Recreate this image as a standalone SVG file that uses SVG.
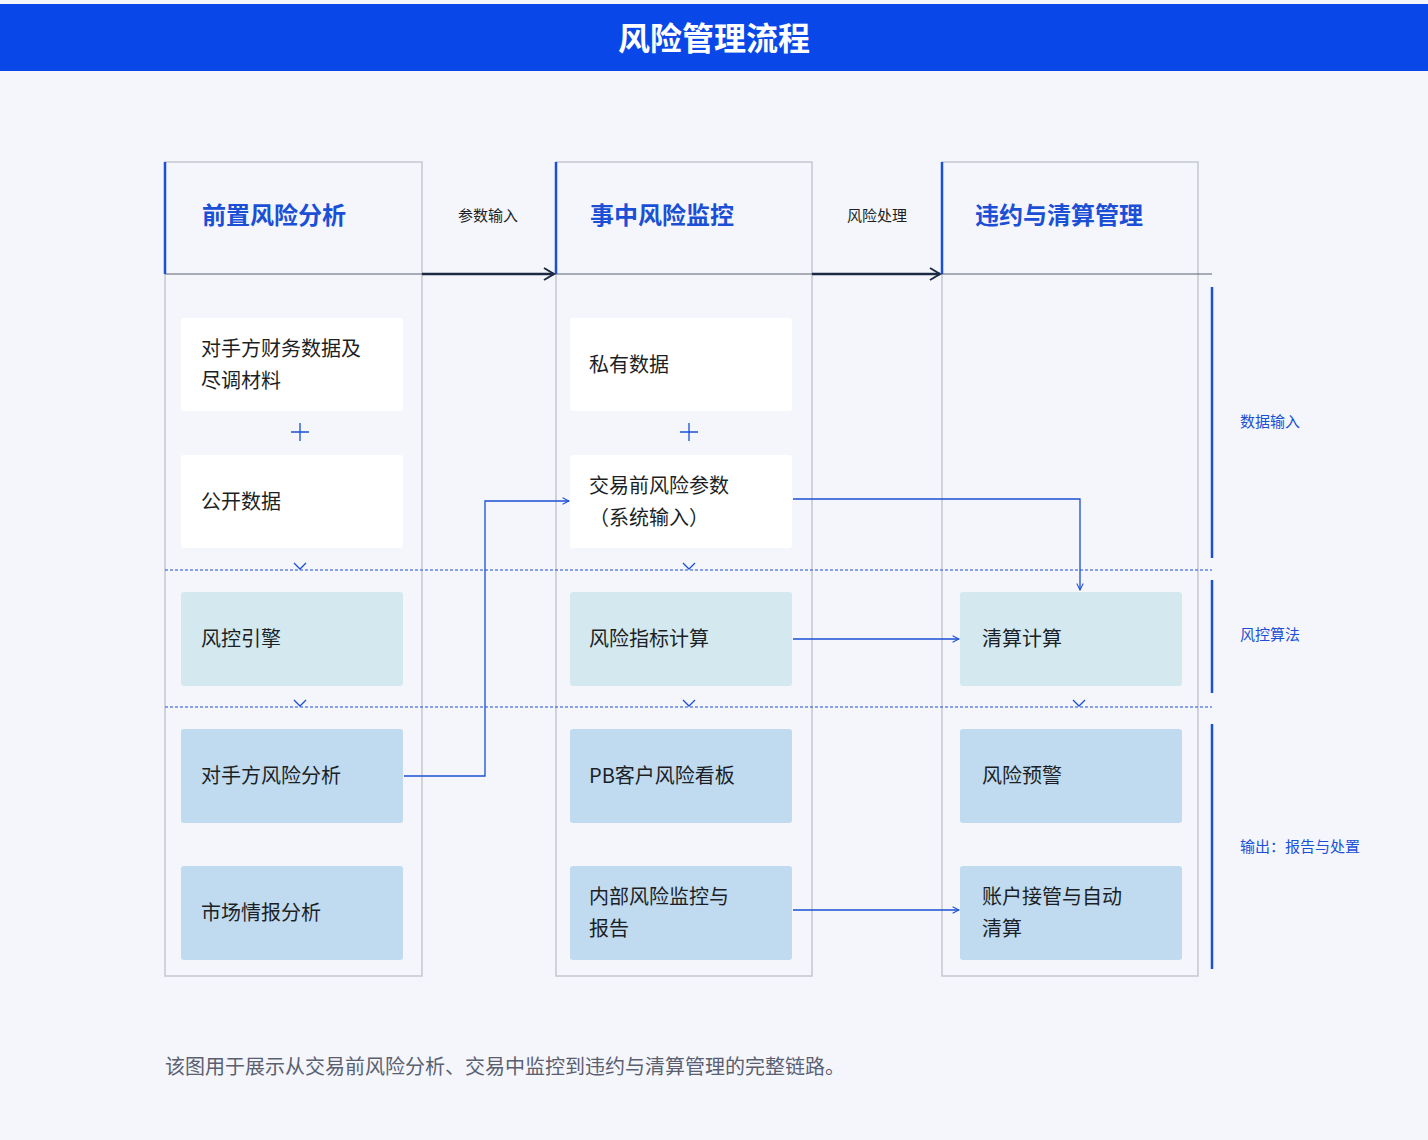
<svg xmlns="http://www.w3.org/2000/svg" width="1428" height="1140" viewBox="0 0 1428 1140">
<style>
text{font-family:"Noto Sans CJK SC","Noto Sans",sans-serif}
.col{fill:none;stroke:#c4c8cf;stroke-width:1.5}
.bar{stroke:#1a4fd6;stroke-width:2.5}
.h{font-size:24px;font-weight:700;fill:#1a4fd6}
.t{font-size:20px;fill:#1c1f26}
.s{font-size:15px;fill:#1c1f26}
.r{font-size:15px;fill:#1a4fd6}
.w{fill:#fff}
.a{fill:#d3e9ef}
.b{fill:#c0dbf0}
.ln{fill:none;stroke:#1a4fd6;stroke-width:1.3}
.dot{stroke:#1a4fd6;stroke-width:1.2;stroke-dasharray:3 2}
.chev{fill:none;stroke:#1a4fd6;stroke-width:1.3}
</style>
<defs>
<marker id="ah" viewBox="0 0 10 10" refX="9" refY="5" markerWidth="8" markerHeight="8" orient="auto" markerUnits="userSpaceOnUse"><path d="M1 1 L9 5 L1 9" fill="none" stroke="#1a4fd6" stroke-width="1.3"/></marker>
<marker id="ak" viewBox="0 0 14 14" refX="12" refY="7" markerWidth="14" markerHeight="14" orient="auto" markerUnits="userSpaceOnUse"><path d="M2 1 L12 7 L2 13" fill="none" stroke="#1c2a44" stroke-width="2"/></marker>
</defs>
<rect width="1428" height="1140" fill="#f4f6fb"/>
<rect x="0" y="4" width="1428" height="67" fill="#0a47e8"/>
<text x="714" y="50" text-anchor="middle" font-size="32" font-weight="700" fill="#fff">风险管理流程</text>

<g id="lanes">
<rect class="col" x="165" y="162" width="257" height="814"/>
<rect class="col" x="556" y="162" width="256" height="814"/>
<rect class="col" x="942" y="162" width="256" height="814"/>
<line x1="165" y1="274" x2="1212" y2="274" stroke="#5a6070" stroke-width="1.2"/>
<line class="bar" x1="165" y1="162" x2="165" y2="274"/>
<line class="bar" x1="556" y1="162" x2="556" y2="274"/>
<line class="bar" x1="942" y1="162" x2="942" y2="274"/>
<text class="h" x="202" y="224">前置风险分析</text>
<text class="h" x="590" y="224">事中风险监控</text>
<text class="h" x="975" y="224">违约与清算管理</text>
<line class="dot" x1="165" y1="570" x2="1212" y2="570"/>
<line class="dot" x1="165" y1="707" x2="1212" y2="707"/>
<path class="chev" d="M294 563 L300 569 L306 563 M683 563 L689 569 L695 563 M294 700 L300 706 L306 700 M683 700 L689 706 L695 700 M1073 700 L1079 706 L1085 700"/>
<path class="chev" d="M291 432 H309 M300 423 V441 M680 432 H698 M689 423 V441"/>
<line class="bar" x1="1212" y1="287" x2="1212" y2="558"/>
<line class="bar" x1="1212" y1="580" x2="1212" y2="693"/>
<line class="bar" x1="1212" y1="724" x2="1212" y2="969"/>
<text class="r" x="1240" y="427">数据输入</text>
<text class="r" x="1240" y="640">风控算法</text>
<text class="r" x="1240" y="852">输出：报告与处置</text>
</g>

<g id="n1"><rect class="w" x="181" y="318" width="222" height="93" rx="3"/><text class="t" x="201" y="356">对手方财务数据及</text><text class="t" x="201" y="388">尽调材料</text></g>
<g id="n2"><rect class="w" x="181" y="455" width="222" height="93" rx="3"/><text class="t" x="201" y="509">公开数据</text></g>
<g id="n3"><rect class="a" x="181" y="592" width="222" height="94" rx="3"/><text class="t" x="201" y="646">风控引擎</text></g>
<g id="n4"><rect class="b" x="181" y="729" width="222" height="94" rx="3"/><text class="t" x="201" y="783">对手方风险分析</text></g>
<g id="n5"><rect class="b" x="181" y="866" width="222" height="94" rx="3"/><text class="t" x="201" y="920">市场情报分析</text></g>
<g id="n6"><rect class="w" x="570" y="318" width="222" height="93" rx="3"/><text class="t" x="589" y="372">私有数据</text></g>
<g id="n7"><rect class="w" x="570" y="455" width="222" height="93" rx="3"/><text class="t" x="589" y="493">交易前风险参数</text><text class="t" x="589" y="525">（系统输入）</text></g>
<g id="n8"><rect class="a" x="570" y="592" width="222" height="94" rx="3"/><text class="t" x="589" y="646">风险指标计算</text></g>
<g id="n9"><rect class="b" x="570" y="729" width="222" height="94" rx="3"/><text class="t" x="589" y="783">PB客户风险看板</text></g>
<g id="n10"><rect class="b" x="570" y="866" width="222" height="94" rx="3"/><text class="t" x="589" y="904">内部风险监控与</text><text class="t" x="589" y="936">报告</text></g>
<g id="n11"><rect class="a" x="960" y="592" width="222" height="94" rx="3"/><text class="t" x="982" y="646">清算计算</text></g>
<g id="n12"><rect class="b" x="960" y="729" width="222" height="94" rx="3"/><text class="t" x="982" y="783">风险预警</text></g>
<g id="n13"><rect class="b" x="960" y="866" width="222" height="94" rx="3"/><text class="t" x="982" y="904">账户接管与自动</text><text class="t" x="982" y="936">清算</text></g>

<g id="connectors">
<line x1="422" y1="274" x2="554" y2="274" stroke="#1c2a44" stroke-width="2.5" marker-end="url(#ak)"/>
<line x1="812" y1="274" x2="940" y2="274" stroke="#1c2a44" stroke-width="2.5" marker-end="url(#ak)"/>
<text class="s" x="488" y="221" text-anchor="middle">参数输入</text>
<text class="s" x="877" y="221" text-anchor="middle">风险处理</text>
<path class="ln" d="M404 776 H485 V501 H569" marker-end="url(#ah)"/>
<path class="ln" d="M793 499 H1080 V590" marker-end="url(#ah)"/>
<path class="ln" d="M793 639 H959" marker-end="url(#ah)"/>
<path class="ln" d="M793 910 H959" marker-end="url(#ah)"/>
</g>
<text x="165" y="1074" font-size="20" fill="#5a6070">该图用于展示从交易前风险分析、交易中监控到违约与清算管理的完整链路。</text>
</svg>
